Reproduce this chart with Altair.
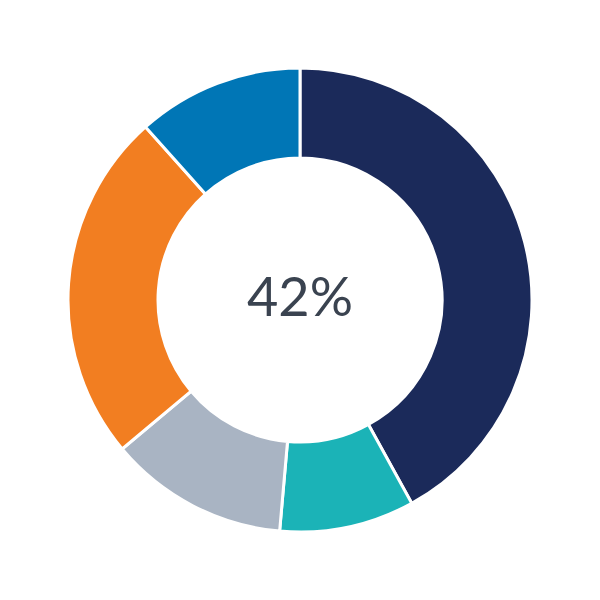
import altair as alt
import pandas as pd

categories = ["A", "B", "C", "D", "E"]
values = [42, 9.4, 12.5, 24.5, 11.6]
colors = ["#1b2a5a", "#1bb3b7", "#a9b4c3", "#f27e21", "#0076b6"]
order = [0, 1, 2, 3, 4]
center_label = "42%"

df = pd.DataFrame({"cat": categories, "value": values, "ord": order})

arcs = alt.Chart(df).mark_arc(
    innerRadius=142, outerRadius=232, stroke="white", strokeWidth=3
).encode(
    theta=alt.Theta("value:Q", stack=True),
    order=alt.Order("ord:Q", sort="ascending"),
    color=alt.Color("cat:N", scale=alt.Scale(domain=categories, range=colors), legend=None),
)

text = alt.Chart(pd.DataFrame({"t": [center_label]})).mark_text(
    font="Lato", fontSize=54, color="#3a4350", align="center", baseline="middle"
).encode(text="t:N")

chart = alt.layer(arcs, text).properties(
    width=584, height=584, padding=0,
    autosize=alt.AutoSizeParams(type="fit", contains="padding")
).configure_view(stroke=None)

chart.save("out.html", embed_options={"renderer": "svg", "actions": False})
